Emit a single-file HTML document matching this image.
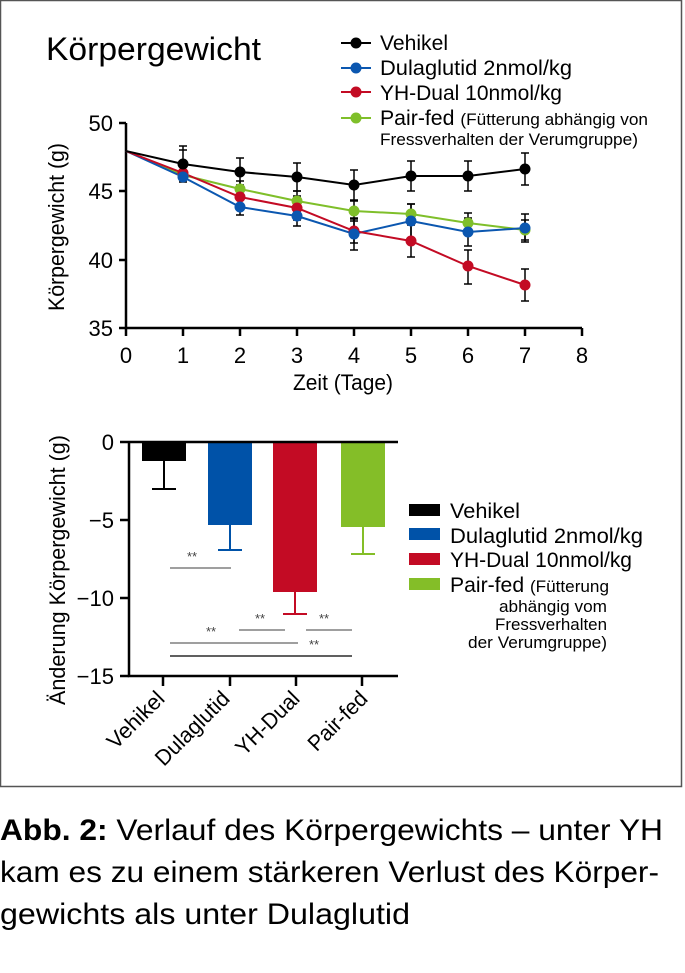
<!DOCTYPE html>
<html><head><meta charset="utf-8"><style>
body{margin:0;background:#fff;width:685px;height:968px;overflow:hidden}
svg text{font-family:"Liberation Sans Narrow","Liberation Sans",sans-serif}
</style></head><body>
<svg width="685" height="968" xmlns="http://www.w3.org/2000/svg">
<rect x="0.5" y="0.5" width="681" height="786" fill="none" stroke="#555" stroke-width="1.5"/>
<text x="46" y="60" font-size="32" textLength="215" lengthAdjust="spacingAndGlyphs">Körpergewicht</text>
<g stroke-width="2">
<line x1="341" y1="43" x2="371" y2="43" stroke="#000"/><circle cx="356" cy="43" r="5.5" fill="#000"/>
<line x1="341" y1="68" x2="371" y2="68" stroke="#0b57b0"/><circle cx="356" cy="68" r="5.5" fill="#0b57b0"/>
<line x1="341" y1="92" x2="371" y2="92" stroke="#c30b24"/><circle cx="356" cy="92" r="5.5" fill="#c30b24"/>
<line x1="341" y1="118" x2="371" y2="118" stroke="#7fbf2a"/><circle cx="356" cy="118" r="5.5" fill="#7fbf2a"/>
</g>
<g font-size="21">
<text x="380" y="50" textLength="68" lengthAdjust="spacingAndGlyphs">Vehikel</text>
<text x="380" y="75" textLength="192" lengthAdjust="spacingAndGlyphs">Dulaglutid 2nmol/kg</text>
<text x="380" y="100" textLength="182" lengthAdjust="spacingAndGlyphs">YH-Dual 10nmol/kg</text>
<text x="380" y="125" textLength="268" lengthAdjust="spacingAndGlyphs">Pair-fed <tspan font-size="17">(Fütterung abhängig von</tspan></text>
<text x="380" y="145" font-size="17" textLength="258" lengthAdjust="spacingAndGlyphs">Fressverhalten der Verumgruppe)</text>
</g>
<!-- top axes -->
<g stroke="#000" stroke-width="2.5" fill="none">
<path d="M126 123V328H582"/>
<path d="M119 123H126M119 191H126M119 260H126M119 328H126"/>
<path d="M126 328v8M183 328v8M240 328v8M297 328v8M354 328v8M411 328v8M468 328v8M525 328v8M582 328v8"/>
</g>
<g font-size="22" text-anchor="end"><text x="113" y="131">50</text><text x="113" y="199">45</text><text x="113" y="268">40</text><text x="113" y="336">35</text></g>
<g font-size="22" text-anchor="middle"><text x="126" y="363">0</text><text x="183" y="363">1</text><text x="240" y="363">2</text><text x="297" y="363">3</text><text x="354" y="363">4</text><text x="411" y="363">5</text><text x="468" y="363">6</text><text x="525" y="363">7</text><text x="582" y="363">8</text></g>
<text x="293" y="390" font-size="22" textLength="100" lengthAdjust="spacingAndGlyphs">Zeit (Tage)</text>
<text transform="translate(64,227) rotate(-90)" font-size="22" text-anchor="middle" textLength="168" lengthAdjust="spacingAndGlyphs">Körpergewicht (g)</text>
<!-- error bars -->
<g stroke="#000" stroke-width="1.5">
<path d="M183 146v36M179 146h8M179 182h8M179 150h8M179 178h8"/>
<path d="M240 158v28M236 158h8M236 186h8M297 163v28M293 163h8M293 191h8M354 170v30M350 170h8M350 200h8M411 161v30M407 161h8M407 191h8M468 161v30M464 161h8M464 191h8M525 153v32M521 153h8M521 185h8"/>
<path d="M240 199v16M236 199h8M236 215h8M297 206v20M293 206h8M293 226h8M354 218v32M350 218h8M350 250h8M411 204v34M407 204h8M407 238h8M468 218v28M464 218h8M464 246h8M525 214v28M521 214h8M521 242h8"/>
<path d="M240 185v24M236 185h8M236 209h8M297 196v24M293 196h8M293 220h8M354 219v24M350 219h8M350 243h8M411 225v32M407 225h8M407 257h8M468 250v34M464 250h8M464 284h8M525 269v32M521 269h8M521 301h8"/>
<path d="M240 181v16M236 181h8M236 197h8M297 191v20M293 191h8M293 211h8M354 201v20M350 201h8M350 221h8M411 204v20M407 204h8M407 224h8M468 213v20M464 213h8M464 233h8M525 220v20M521 220h8M521 240h8"/>
</g>
<g stroke-width="2" fill="none">
<polyline stroke="#7fbf2a" points="126,151 183,175 240,189 297,201 354,211 411,214 468,223 525,230"/>
<polyline stroke="#0b57b0" points="126,151 183,177 240,207 297,216 354,234 411,221 468,232 525,228"/>
<polyline stroke="#c30b24" points="126,151 183,173 240,197 297,208 354,231 411,241 468,266 525,285"/>
<polyline stroke="#000" points="126,151 183,164 240,172 297,177 354,185 411,176 468,176 525,169"/>
</g>
<g fill="#7fbf2a"><circle cx="183" cy="175" r="5.5"/><circle cx="240" cy="189" r="5.5"/><circle cx="297" cy="201" r="5.5"/><circle cx="354" cy="211" r="5.5"/><circle cx="411" cy="214" r="5.5"/><circle cx="468" cy="223" r="5.5"/><circle cx="525" cy="230" r="5.5"/></g>
<g fill="#c30b24"><circle cx="183" cy="173" r="5.5"/><circle cx="240" cy="197" r="5.5"/><circle cx="297" cy="208" r="5.5"/><circle cx="354" cy="231" r="5.5"/><circle cx="411" cy="241" r="5.5"/><circle cx="468" cy="266" r="5.5"/><circle cx="525" cy="285" r="5.5"/></g>
<g fill="#0b57b0"><circle cx="183" cy="177" r="5.5"/><circle cx="240" cy="207" r="5.5"/><circle cx="297" cy="216" r="5.5"/><circle cx="354" cy="234" r="5.5"/><circle cx="411" cy="221" r="5.5"/><circle cx="468" cy="232" r="5.5"/><circle cx="525" cy="228" r="5.5"/></g>
<g fill="#000"><circle cx="183" cy="164" r="5.5"/><circle cx="240" cy="172" r="5.5"/><circle cx="297" cy="177" r="5.5"/><circle cx="354" cy="185" r="5.5"/><circle cx="411" cy="176" r="5.5"/><circle cx="468" cy="176" r="5.5"/><circle cx="525" cy="169" r="5.5"/></g>
<!-- bottom chart -->
<rect x="142" y="442" width="44" height="19" fill="#000"/>
<rect x="208" y="442" width="44" height="83" fill="#0052a8"/>
<rect x="273" y="442" width="44" height="150" fill="#c30b24"/>
<rect x="341" y="442" width="44" height="85" fill="#84be28"/>
<g stroke-width="2">
<path d="M164 461v28M152 489h24" stroke="#000"/>
<path d="M230 525v25M218 550h24" stroke="#0052a8"/>
<path d="M295 592v22M283 614h24" stroke="#c30b24"/>
<path d="M363 527v27M351 554h24" stroke="#84be28"/>
</g>
<g stroke="#000" stroke-width="2.5" fill="none">
<path d="M129 442V676H398M120 442H398"/>
<path d="M120 520H129M120 598H129M120 676H129"/>
<path d="M163 676v10M230 676v10M296 676v10M362 676v10"/>
</g>
<g font-size="22" text-anchor="end"><text x="114" y="450">0</text><text x="114" y="528">−5</text><text x="114" y="606">−10</text><text x="114" y="684">−15</text></g>
<text transform="translate(65,570) rotate(-90)" font-size="22" text-anchor="middle" textLength="270" lengthAdjust="spacingAndGlyphs">Änderung Körpergewicht (g)</text>
<g font-size="22" text-anchor="end">
<text transform="translate(166,700) rotate(-45)" textLength="71" lengthAdjust="spacingAndGlyphs">Vehikel</text>
<text transform="translate(231,700) rotate(-45)" textLength="95" lengthAdjust="spacingAndGlyphs">Dulaglutid</text>
<text transform="translate(301,700) rotate(-45)" textLength="80" lengthAdjust="spacingAndGlyphs">YH-Dual</text>
<text transform="translate(369,700) rotate(-45)" textLength="74" lengthAdjust="spacingAndGlyphs">Pair-fed</text>
</g>
<g stroke="#666" stroke-width="1.3">
<path d="M170 568H231M239 630H285M306 630H352M170 643H298"/>
<path d="M170 656H352" stroke="#000"/>
</g>
<g font-size="13" fill="#444" text-anchor="middle">
<text x="192" y="561">**</text><text x="260" y="623">**</text><text x="324" y="623">**</text><text x="211" y="636">**</text><text x="314" y="649">**</text>
</g>
<rect x="409" y="504" width="31" height="12" fill="#000"/>
<rect x="409" y="528" width="31" height="12" fill="#0052a8"/>
<rect x="409" y="553" width="31" height="12" fill="#c30b24"/>
<rect x="409" y="578" width="31" height="12" fill="#84be28"/>
<g font-size="21">
<text x="450" y="518" textLength="70" lengthAdjust="spacingAndGlyphs">Vehikel</text>
<text x="450" y="543" textLength="193" lengthAdjust="spacingAndGlyphs">Dulaglutid 2nmol/kg</text>
<text x="450" y="567" textLength="182" lengthAdjust="spacingAndGlyphs">YH-Dual 10nmol/kg</text>
<text x="450" y="592" textLength="159" lengthAdjust="spacingAndGlyphs">Pair-fed <tspan font-size="17">(Fütterung</tspan></text>
</g>
<g font-size="17">
<text x="499" y="612" textLength="108" lengthAdjust="spacingAndGlyphs">abhängig vom</text><text x="495" y="630" textLength="112" lengthAdjust="spacingAndGlyphs">Fressverhalten</text><text x="468" y="648" textLength="139" lengthAdjust="spacingAndGlyphs">der Verumgruppe)</text>
</g>
<g font-size="30">
<text x="0" y="840" textLength="663" lengthAdjust="spacingAndGlyphs"><tspan font-weight="bold">Abb. 2:</tspan> Verlauf des Körpergewichts – unter YH</text>
<text x="0" y="882" textLength="659" lengthAdjust="spacingAndGlyphs">kam es zu einem stärkeren Verlust des Körper-</text>
<text x="0" y="924" textLength="410" lengthAdjust="spacingAndGlyphs">gewichts als unter Dulaglutid</text>
</g>
</svg>
</body></html>
